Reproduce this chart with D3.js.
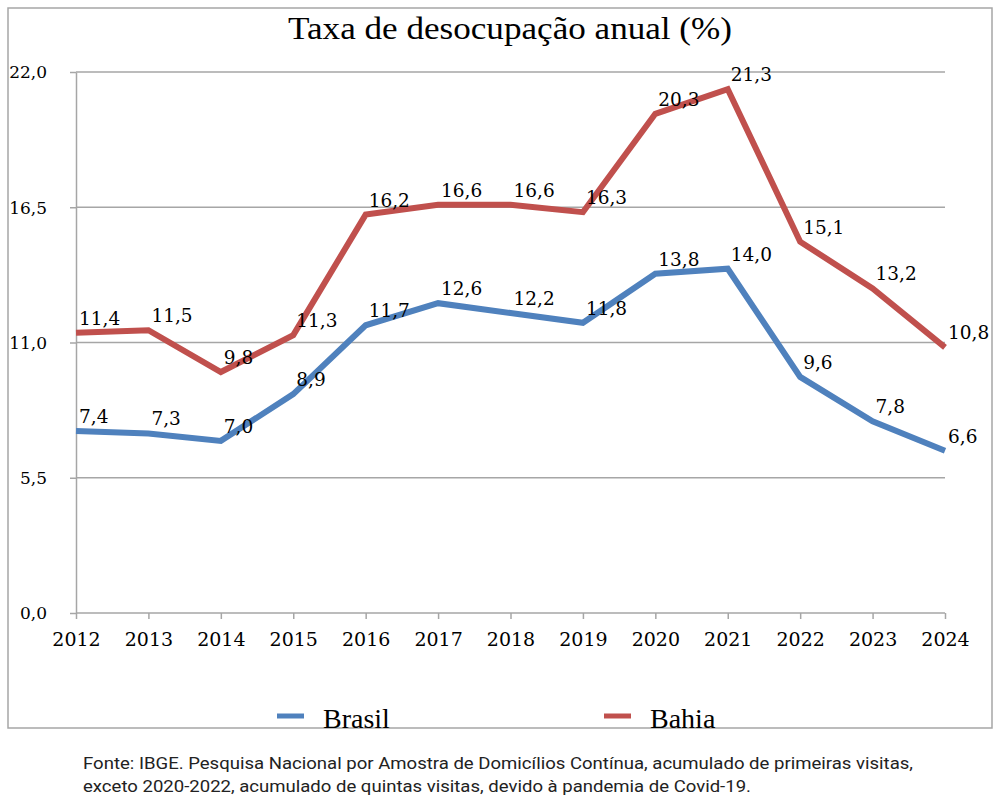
<!DOCTYPE html>
<html>
<head>
<meta charset="utf-8">
<title>Taxa de desocupação anual</title>
<script src="https://cdn.jsdelivr.net/npm/d3@7"></script>
<style>
  body { margin: 0; background: #fff; }
  svg { display: block; }
  .grid line { stroke: #a6a6a6; stroke-width: 1.5; }
  .axis path, .axis line { stroke: #a6a6a6; stroke-width: 1.5; }
  .axis text { font-family: "DejaVu Serif", serif; fill: #000; }
  .lbl { font-family: "DejaVu Serif", serif; font-size: 18.5px; fill: #000; }
</style>
</head>
<body>
<svg id="chart" width="1000" height="806"></svg>
<script>
// dados
var anos = [2012, 2013, 2014, 2015, 2016, 2017, 2018, 2019, 2020, 2021, 2022, 2023, 2024];
var brasil = [7.4, 7.3, 7.0, 8.9, 11.7, 12.6, 12.2, 11.8, 13.8, 14.0, 9.6, 7.8, 6.6];
var bahia = [11.4, 11.5, 9.8, 11.3, 16.2, 16.6, 16.6, 16.3, 20.3, 21.3, 15.1, 13.2, 10.8];
var yTicks = [0, 5.5, 11, 16.5, 22];
var series = [
  {nome: "Brasil", valores: brasil, cor: "#4f81bd"},
  {nome: "Bahia", valores: bahia, cor: "#c0504d"}
];
var titulo = "Taxa de desocupação anual (%)";
var fonte = [
  "Fonte: IBGE. Pesquisa Nacional por Amostra de Domicílios Contínua, acumulado de primeiras visitas,",
  "exceto 2020-2022, acumulado de quintas visitas, devido à pandemia de Covid-19."
];

var svg = d3.select("#chart");
var fmt = function(v) { return d3.format(".1f")(v).replace(".", ","); };

var x = d3.scalePoint().domain(anos).range([76, 945]);
var y = d3.scaleLinear().domain([0, 22]).range([613, 72]);

// moldura
svg.append("rect")
  .attr("x", 8).attr("y", 8).attr("width", 984).attr("height", 720)
  .attr("fill", "none").attr("stroke", "#a6a6a6").attr("stroke-width", 1.5);

svg.append("text")
  .attr("x", 510).attr("y", 39)
  .attr("text-anchor", "middle")
  .attr("font-family", "Liberation Serif, serif")
  .attr("font-size", 31)
  .attr("textLength", 444).attr("lengthAdjust", "spacingAndGlyphs")
  .text(titulo);

// grade
svg.append("g").attr("class", "grid")
  .selectAll("line").data(yTicks.slice(1)).join("line")
  .attr("x1", 76).attr("x2", 945)
  .attr("y1", function(d) { return y(d); })
  .attr("y2", function(d) { return y(d); });

var yAxis = svg.append("g").attr("class", "axis")
  .attr("transform", "translate(76,0)")
  .call(d3.axisLeft(y).tickValues(yTicks).tickFormat(fmt).tickSize(6).tickSizeOuter(0).tickPadding(24));
yAxis.selectAll("text").attr("font-size", 17).attr("x", -29).attr("dy", "0.35em");

var xAxis = svg.append("g").attr("class", "axis")
  .attr("transform", "translate(0,613)")
  .call(d3.axisBottom(x).tickSize(6).tickSizeOuter(0).tickPadding(10));
xAxis.select(".domain").attr("d", "M76,0H945");
xAxis.selectAll("text").attr("font-size", 19).attr("dy", "0.9em");

var line = d3.line()
  .x(function(d, i) { return x(anos[i]); })
  .y(function(d) { return y(d); });

series.forEach(function(s) {
  svg.append("path")
    .datum(s.valores)
    .attr("d", line)
    .attr("fill", "none")
    .attr("stroke", s.cor)
    .attr("stroke-width", 6)
    .attr("stroke-linejoin", "miter");
});

series.forEach(function(s) {
  svg.append("g").selectAll("text").data(s.valores).join("text")
    .attr("class", "lbl")
    .attr("x", function(d, i) { return x(anos[i]) + 3; })
    .attr("y", function(d) { return y(d) - 8; })
    .text(fmt);
});

// legenda
var leg = svg.append("g").selectAll("g").data(series).join("g")
  .attr("transform", function(d, i) { return "translate(" + (277 + i * 327) + ",716)"; });
leg.append("line").attr("x1", 0).attr("x2", 27)
  .attr("stroke", function(d) { return d.cor; }).attr("stroke-width", 5);
leg.append("text").attr("x", 46).attr("y", 12)
  .attr("font-family", "Liberation Serif, serif").attr("font-size", 28)
  .text(function(d) { return d.nome; });

svg.append("g").selectAll("text").data(fonte).join("text")
  .attr("x", 83)
  .attr("y", function(d, i) { return 769 + i * 23; })
  .attr("font-family", "Liberation Sans Narrow, Roboto, sans-serif")
  .attr("font-size", 17)
  .attr("fill", "#222")
  .attr("textLength", function(d, i) { return i === 0 ? 830 : 668; })
  .attr("lengthAdjust", "spacingAndGlyphs")
  .text(function(d) { return d; });
</script>
</body>
</html>
